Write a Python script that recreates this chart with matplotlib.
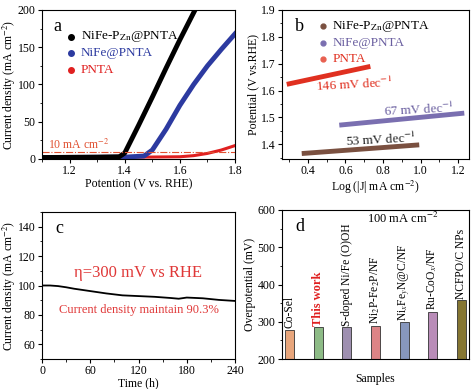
import matplotlib
matplotlib.use("Agg")
import matplotlib.pyplot as plt
from matplotlib.ticker import AutoMinorLocator

plt.rcParams['font.family'] = ['Liberation Serif', 'DejaVu Serif']
plt.rcParams['mathtext.fontset'] = 'stix'
plt.rcParams['font.size'] = 8.5
plt.rcParams['axes.linewidth'] = 0.8
plt.rcParams['xtick.major.size'] = 3
plt.rcParams['ytick.major.size'] = 3
plt.rcParams['xtick.minor.size'] = 1.8
plt.rcParams['ytick.minor.size'] = 1.8
plt.rcParams['xtick.major.pad'] = 1.5
plt.rcParams['ytick.major.pad'] = 1.5

# Panel a: LSV curves
lsv_v_black = [1.10, 1.30, 1.38, 1.40, 1.45, 1.50, 1.55, 1.60, 1.655]
lsv_j_black = [2, 2.5, 3, 8, 45, 83, 122, 160, 200]
lsv_v_blue = [1.10, 1.40, 1.47, 1.50, 1.55, 1.60, 1.65, 1.70, 1.75, 1.80]
lsv_j_blue = [2, 2.5, 4, 12, 40, 72, 100, 125, 147, 168]
lsv_v_red = [1.10, 1.40, 1.60, 1.65, 1.70, 1.75, 1.80]
lsv_j_red = [2, 2.3, 3, 4.5, 7.5, 12, 18]

# Panel b: Tafel lines
tafel_x_black = [0.38, 0.98]
tafel_y_black = [1.366, 1.397]
tafel_x_blue = [0.58, 1.22]
tafel_y_blue = [1.472, 1.515]
tafel_x_red = [0.30, 0.72]
tafel_y_red = [1.625, 1.688]

# Panel c: stability
stab_t = [0, 10, 20, 30, 40, 60, 80, 100, 120, 140, 160, 170, 180, 200, 220, 240]
stab_j = [100, 100, 99.6, 98.8, 97.8, 96.2, 94.6, 93.3, 92.8, 92.3, 91.5, 91.0, 91.8, 91.3, 90.2, 89.5]

# Panel d: overpotential comparison
samples = ['Co-Sel', 'This work', 'S-doped Ni/Fe (O)OH', 'Ni$_2$P-Fe$_2$P/NF',
           'Ni$_x$Fe$_y$N@C/NF', 'Ru-CoO$_x$/NF', 'NCFPO/C NPs']
overpot = [278, 285, 285, 289, 298, 327, 358]
bar_colors = ['#e8a67c', '#8dbb86', '#9e8fb0', '#dc8486', '#8797bd', '#b98cb8', '#857632']

fig = plt.figure(figsize=(4.74, 3.89), dpi=100)

# ---- a ----
ax = fig.add_axes([42 / 474, 1 - 159 / 389, 193 / 474, 149 / 389])
ax.plot(lsv_v_red, lsv_j_red, color='#e02020', lw=2.2)
ax.plot(lsv_v_blue, lsv_j_blue, color='#2c3aa0', lw=3.5)
ax.plot(lsv_v_black, lsv_j_black, color='black', lw=3.5)
ax.axhline(10, color='#e05030', lw=0.8, ls='-.')
ax.text(1.12, 13, '10 mA cm$^{-2}$', color='#e05030', fontsize=8.5)
ax.set_xlim(1.1, 1.8)
ax.set_ylim(0, 200)
ax.set_xticks([1.2, 1.4, 1.6, 1.8])
ax.set_yticks([0, 50, 100, 150, 200])
ax.xaxis.set_minor_locator(AutoMinorLocator(2))
ax.yaxis.set_minor_locator(AutoMinorLocator(2))
ax.set_xlabel('Potention (V vs. RHE)', labelpad=1)
ax.set_ylabel('Current density (mA cm$^{-2}$)', labelpad=0)
ax.text(0.06, 0.86, 'a', transform=ax.transAxes, fontsize=13)
for i, (lab, col) in enumerate([('NiFe-P$_{\\mathrm{Zn}}$@PNTA', 'black'),
                                ('NiFe@PNTA', '#2c3aa0'),
                                ('PNTA', '#e02020')]):
    yy = 0.82 - i * 0.11
    ax.plot([0.15], [yy], 'o', color=col, ms=4, transform=ax.transAxes)
    ax.text(0.2, yy, lab, color=col, fontsize=9.5, va='center', transform=ax.transAxes)

# ---- b ----
ax = fig.add_axes([282 / 474, 1 - 159 / 389, 187 / 474, 149 / 389])
ax.plot(tafel_x_red, tafel_y_red, color='#e03020', lw=3.5)
ax.plot(tafel_x_blue, tafel_y_blue, color='#7a6fb0', lw=3.5)
ax.plot(tafel_x_black, tafel_y_black, color='#7a5040', lw=3.5)
ax.text(0.44, 1.598, '146 mV dec$^{-1}$', color='#e03020', fontsize=9.5, rotation=3)
ax.text(0.80, 1.505, '67 mV dec$^{-1}$', color='#6a5fa0', fontsize=9.5, rotation=3)
ax.text(0.60, 1.395, '53 mV dec$^{-1}$', color='#222222', fontsize=9.5, rotation=3)
ax.set_xlim(0.262, 1.258)
ax.set_ylim(1.345, 1.9)
ax.set_xticks([0.4, 0.6, 0.8, 1.0, 1.2])
ax.set_xticklabels(['0.4', '0.6', '0.8', '1.0', '1.2'])
ax.set_yticks([1.4, 1.5, 1.6, 1.7, 1.8, 1.9])
ax.xaxis.set_minor_locator(AutoMinorLocator(2))
ax.yaxis.set_minor_locator(AutoMinorLocator(2))
ax.set_xlabel('Log (|J| mA cm$^{-2}$)', labelpad=1)
ax.set_ylabel('Potential (V vs.RHE)', labelpad=1)
ax.text(0.07, 0.86, 'b', transform=ax.transAxes, fontsize=13)
for i, (lab, col, tcol) in enumerate([('NiFe-P$_{\\mathrm{Zn}}$@PNTA', '#7a5040', 'black'),
                                      ('NiFe@PNTA', '#7a6fb0', '#6a5fa0'),
                                      ('PNTA', '#e86050', '#e03020')]):
    yy = 0.89 - i * 0.11
    ax.plot([0.22], [yy], 'o', color=col, ms=3.5, transform=ax.transAxes)
    ax.text(0.27, yy, lab, color=tcol, fontsize=9.5, va='center', transform=ax.transAxes)

# ---- c ----
ax = fig.add_axes([42 / 474, 1 - 359 / 389, 193 / 474, 147 / 389])
ax.plot(stab_t, stab_j, color='black', lw=1.3)
ax.text(120, 106, 'η=300 mV vs RHE', color='#e03838', fontsize=12, ha='center')
ax.text(120, 81, 'Current density maintain 90.3%', color='#e03838', fontsize=9, ha='center')
ax.set_xlim(0, 240)
ax.set_ylim(50, 150)
ax.set_xticks([0, 60, 120, 180, 240])
ax.set_yticks([60, 80, 100, 120, 140])
ax.xaxis.set_minor_locator(AutoMinorLocator(2))
ax.yaxis.set_minor_locator(AutoMinorLocator(2))
ax.set_xlabel('Time (h)', labelpad=0)
ax.set_ylabel('Current density (mA cm$^{-2}$)', labelpad=0)
ax.text(0.07, 0.86, 'c', transform=ax.transAxes, fontsize=13)

# ---- d ----
ax = fig.add_axes([282 / 474, 1 - 359 / 389, 187 / 474, 149 / 389])
xs = list(range(len(samples)))
ax.bar(xs, overpot, width=0.32, color=bar_colors, edgecolor='#333333', lw=0.6)
for x, v, lab in zip(xs, overpot, samples):
    if lab == 'This work':
        ax.text(x, v + 4, lab, rotation=90, ha='center', va='bottom', color='#e02020',
                fontsize=9, fontweight='bold')
    else:
        ax.text(x, v + 4, lab, rotation=90, ha='center', va='bottom', fontsize=8.3)
ax.text(3.95, 565, '100 mA cm$^{-2}$', fontsize=9, ha='center')
ax.set_xlim(-0.27, 6.27)
ax.set_ylim(200, 600)
ax.set_xticks([])
ax.set_yticks([200, 300, 400, 500, 600])
ax.yaxis.set_minor_locator(AutoMinorLocator(2))
ax.set_xlabel('Samples', labelpad=10)
ax.set_ylabel('Overpotential (mV)', labelpad=1)
ax.text(0.07, 0.86, 'd', transform=ax.transAxes, fontsize=13)

fig.savefig('out.png', dpi=100)
